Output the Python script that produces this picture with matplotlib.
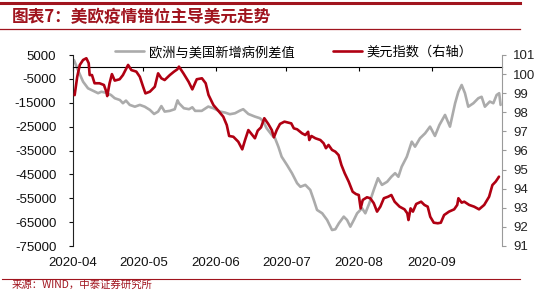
import numpy as np
import pandas as pd
import matplotlib
matplotlib.use("Agg")
import matplotlib.pyplot as plt
from matplotlib.lines import Line2D

plt.rcParams["font.family"] = ["Liberation Sans", "Noto Sans CJK SC", "DejaVu Sans"]

start = pd.Timestamp("2020-04-01")
end = pd.Timestamp("2020-10-01")

# Europe minus US new cases (left axis); x is days after 2020-04-01
gray_days = [0.4, 2.1, 4.3, 6.4, 8.5, 10.7, 12.1, 14.1, 16.2, 17.8, 20.0, 21.3, 22.6, 24.2,
             26.4, 28.5, 30.6, 32.8, 34.6, 36.3, 37.7, 39.1, 41.3, 43.4, 44.6, 45.2, 47.3,
             49.5, 50.9, 52.1, 54.9, 57.7, 59.9, 62.7, 64.8, 66.9, 69.1, 71.2, 72.6, 74.8,
             77.6, 79.8, 81.2, 82.6, 84.8, 86.2, 87.6, 89.0, 91.3, 93.4, 95.6, 97.0, 99.1,
             101.2, 102.7, 104.1, 106.3, 108.4, 110.5, 111.9, 113.4, 115.5, 116.9, 118.3,
             119.8, 121.2, 123.3, 124.7, 126.4, 128.3, 130.1, 131.8, 134.0, 135.8, 137.4,
             138.8, 140.2, 142.4, 144.5, 145.9, 148.0, 150.2, 152.3, 154.4, 156.3, 158.7,
             160.8, 163.0, 164.4, 165.8, 167.2, 168.6, 170.8, 172.9, 174.3, 175.7, 177.8,
             179.3, 180.7, 181.8, 182.4]
gray_vals = [2900, -1280, -6180, -8950, -9950, -11000, -10400, -10800, -11750, -13100,
             -13850, -15200, -14100, -15900, -16650, -15900, -16650, -18000, -19700, -18700,
             -16400, -18700, -18400, -17700, -14000, -15200, -17300, -17700, -16900, -18400,
             -18400, -16600, -17300, -18700, -19100, -19800, -19400, -18300, -17700, -19700,
             -20800, -21500, -22900, -25700, -28500, -29900, -33400, -37600, -41100, -44500,
             -48700, -50200, -49400, -51500, -55700, -59900, -61300, -64100, -68300, -68000,
             -65500, -62700, -64100, -66900, -64100, -61300, -59200, -61300, -57100, -51500,
             -46600, -49400, -48100, -46000, -44500, -46000, -41800, -37600, -31300, -33400,
             -29900, -27800, -25000, -28900, -24300, -20100, -25000, -15200, -10400, -7560,
             -11000, -16650, -15200, -13100, -12500, -16650, -14500, -15200, -11750, -11000,
             -15900]

# US dollar index (right axis)
red_days = [0.7, 1.8, 2.9, 4.3, 5.7, 6.7, 7.1, 8.1, 9.2, 11.3, 13.2, 14.2, 14.6, 15.6, 16.6,
            17.8, 19.9, 21.3, 23.5, 24.9, 27.0, 28.5, 29.9, 30.9, 32.8, 34.9, 36.3, 37.7,
            39.1, 41.3, 43.1, 44.5, 45.2, 47.1, 49.3, 50.9, 52.8, 55.0, 56.6, 57.8, 59.9,
            62.0, 64.1, 65.6, 66.6, 68.4, 70.5, 72.2, 73.4, 74.8, 76.5, 77.6, 78.8, 80.2,
            81.6, 83.3, 84.8, 85.7, 86.9, 88.3, 90.2, 93.1, 94.2, 95.6, 97.7, 99.1, 100.3,
            100.8, 101.7, 103.4, 105.5, 106.9, 107.9, 109.0, 110.5, 111.9, 113.3, 114.5,
            115.9, 117.6, 119.3, 120.7, 121.9, 122.7, 123.6, 125.4, 126.8, 128.3, 129.7,
            131.1, 132.6, 134.4, 135.8, 137.2, 139.3, 141.4, 142.6, 143.1, 144.0, 145.0,
            146.4, 148.5, 149.9, 151.3, 152.4, 153.9, 155.6, 156.9, 158.3, 160.4, 162.6,
            163.9, 164.4, 165.8, 166.9, 169.0, 171.1, 173.2, 175.4, 177.5, 178.9, 180.3,
            181.3, 181.7]
red_vals = [98.90, 99.86, 100.48, 100.74, 100.83, 100.57, 99.95, 99.95, 99.52, 99.52, 99.43,
            99.08, 98.85, 99.52, 100.00, 99.66, 99.73, 99.95, 100.48, 100.21, 100.13, 99.86,
            99.34, 98.99, 99.08, 99.34, 100.04, 99.78, 99.69, 99.95, 100.13, 100.25, 100.39,
            100.04, 99.60, 99.20, 99.73, 99.78, 99.52, 98.91, 98.38, 98.08, 97.77, 97.33,
            96.76, 96.72, 96.46, 96.06, 96.55, 97.07, 96.81, 96.64, 97.04, 97.21, 97.69,
            97.39, 97.07, 96.69, 97.07, 97.39, 97.51, 97.42, 97.16, 97.11, 96.90, 96.81,
            96.98, 96.55, 96.76, 96.64, 96.55, 96.38, 96.12, 96.29, 96.03, 95.94, 95.76,
            95.24, 94.81, 94.37, 93.84, 93.72, 93.67, 92.97, 93.41, 93.55, 93.50, 93.24,
            92.80, 93.06, 93.50, 93.58, 93.67, 93.32, 93.06, 92.92, 92.71, 92.36, 92.97,
            92.80, 93.20, 93.32, 93.15, 93.06, 92.53, 92.22, 92.19, 92.22, 92.62, 92.80,
            92.92, 93.15, 93.50, 93.27, 93.32, 93.15, 93.06, 92.92, 93.15, 93.58, 94.19,
            94.37, 94.55, 94.63]

month_labels = ["2020-04", "2020-05", "2020-06", "2020-07", "2020-08", "2020-09"]
left_ticks = list(range(5000, -75001, -10000))
right_ticks = list(range(91, 102))

DARK_RED = "#A0141E"
LINE_RED = "#B00012"
GRAY = "#ABABAB"
W, H = 542, 300

gray_x = start + pd.to_timedelta(gray_days, unit="D")
red_x = start + pd.to_timedelta(red_days, unit="D")
month_x = pd.date_range(start, periods=len(month_labels), freq="MS")

fig = plt.figure(figsize=(W / 100, H / 100), dpi=100)
ax = fig.add_axes([73 / W, 1 - 246 / H, 429 / W, 191 / H])
ax2 = ax.twinx()

l1, = ax.plot(gray_x, gray_vals, color=GRAY, lw=1.9, solid_capstyle="round")
l2, = ax2.plot(red_x, red_vals, color=LINE_RED, lw=1.9, solid_capstyle="round")

ax.set_xlim(start, end)
ax.set_ylim(-75000, 5000)
ax2.set_ylim(91, 101)

ax.spines["top"].set_visible(False)
ax.spines["right"].set_visible(False)
ax.spines["bottom"].set_position(("data", 0))
ax.spines["bottom"].set_linewidth(0.8)
ax.spines["left"].set_color("#222222")
ax.spines["left"].set_linewidth(0.8)
for s in ["top", "bottom", "left"]:
    ax2.spines[s].set_visible(False)
ax2.spines["right"].set_color("#9A9A9A")
ax2.spines["right"].set_linewidth(0.8)

ax.set_xticks(month_x)
ax.tick_params(axis="x", direction="out", length=3, width=0.8, labelbottom=False)
ax.set_yticks(left_ticks)
ax.set_yticklabels([str(v) for v in left_ticks])
ax.tick_params(axis="y", direction="out", length=3, width=0.8, pad=9, labelsize=9.5,
               colors="#111111")
ax2.set_yticks(right_ticks)
ax2.tick_params(axis="y", direction="out", length=3, width=0.8, pad=5, labelsize=9.5,
                colors="#9A9A9A", labelcolor="#222222")

for t, lab in zip(month_x, month_labels):
    ax.text(t, -0.088, lab, transform=ax.get_xaxis_transform(), ha="center", va="center",
            fontsize=9.5, color="#111111")

cjk = ["Noto Sans CJK SC", "DejaVu Sans"]
fig.legend([l1, l2], ["欧洲与美国新增病例差值", "美元指数（右轴）"], ncol=2, loc="center",
           bbox_to_anchor=(294 / W, 1 - 52.5 / H), frameon=False, handlelength=2.2,
           handletextpad=0.35, columnspacing=2.9, borderpad=0,
           prop={"family": cjk, "size": 9.5})

fig.text(12 / W, 1 - 17 / H, "图表7：美欧疫情错位主导美元走势", color=DARK_RED, fontsize=12,
         fontweight="bold", family=cjk, va="center")
fig.text(12 / W, 1 - 285 / H, "来源：WIND，中泰证券研究所", color=DARK_RED, fontsize=7.5,
         family=cjk, va="center")

fig.add_artist(Line2D([0, 520 / W], [1 - 3 / H] * 2, color=DARK_RED, lw=2.2))
fig.add_artist(Line2D([0, 520 / W], [1 - 29 / H] * 2, color=DARK_RED, lw=0.9))
fig.add_artist(Line2D([2 / W, 520 / W], [1 - 279 / H] * 2, color=DARK_RED, lw=0.8))

fig.savefig("out.png", dpi=100)
